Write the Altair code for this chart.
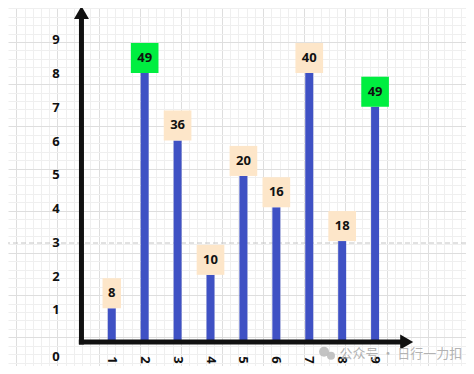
import altair as alt
import pandas as pd
import numpy as np

# ---- data ----
idx = [1, 2, 3, 4, 5, 6, 7, 8, 9]
heights = [1.03, 8, 6, 2.02, 4.95, 4.02, 8, 3.02, 7]
box_labels = ["8", "49", "36", "10", "20", "16", "40", "18", "49"]
y_ticks = [1, 2, 3, 4, 5, 6, 7, 8, 9]
y_tick_labels = ["1", "2", "3", "4", "5", "6", "7", "8", "9"]
origin_label = "0"
x_tick_labels = ["1", "2", "3", "4", "5", "6", "7", "8", "9"]
watermark = "公众号 · 日行一力扣"

W, H = 458, 358
xs = alt.Scale(domain=[-2.0, 11.61], nice=False, zero=False)
ys = alt.Scale(domain=[-0.681, 9.926], nice=False, zero=False)

# faint background grid (decoration)
xg = [round(10.6 - 0.25 * k, 4) for k in range(-4, 51)]
yg = [round(8.92 - 0.25 * k, 4) for k in range(-4, 39)]
x_axis = alt.Axis(values=xg, grid=True, labels=False, ticks=False, domain=False, title=None,
                  gridColor={"condition": {"test": "round((10.6 - datum.value) / 0.25) % 5 == 0",
                                           "value": "#dedede"}, "value": "#efefef"},
                  gridWidth=1)
y_axis = alt.Axis(values=yg, grid=True, labels=False, ticks=False, domain=False, title=None,
                  gridColor={"condition": {"test": "round((8.92 - datum.value) / 0.25) % 5 == 0",
                                           "value": "#dedede"}, "value": "#efefef"},
                  gridWidth=1)


def X(f, **kw):
    return alt.X(f, type="quantitative", scale=xs, axis=x_axis, **kw)


def Y(f, **kw):
    return alt.Y(f, type="quantitative", scale=ys, axis=y_axis, **kw)


maxlab = max(int(v) for v in box_labels)
bars_df = pd.DataFrame({
    "i": idx, "h": heights, "label": box_labels,
    "hl": [int(v) == maxlab for v in box_labels],
})

bars = alt.Chart(bars_df).mark_bar(size=8, color="#3f51c4").encode(
    x=X("i"), y=Y("h"), y2=alt.value(H - (0 - (-0.681)) * (H / (9.926 + 0.681)))
)

boxes = alt.Chart(bars_df).transform_calculate(
    lo="datum.i - (length(datum.label) > 1 ? 0.42 : 0.28)",
    hi="datum.i + (length(datum.label) > 1 ? 0.42 : 0.28)",
    top="datum.h + 0.89",
    col="datum.hl ? '#00ee40' : '#fde6c9'",
).mark_rect().encode(
    x=X("lo"), x2="hi", y=Y("h"), y2="top",
    color=alt.Color("col:N", scale=None),
)

box_text = alt.Chart(bars_df).transform_calculate(
    mid="datum.h + 0.445"
).mark_text(fontSize=13, fontWeight="bold", font="Noto Sans", color="#111",
            baseline="middle", align="center").encode(
    x=X("i"), y=Y("mid"), text="label:N"
)

# dashed horizontal guide
dash = alt.Chart(pd.DataFrame({"y": [2.963]})).mark_rule(
    color="#c4c4c4", strokeDash=[5, 3], strokeWidth=1
).encode(y=Y("y"))

# axis shafts
yshaft = alt.Chart(pd.DataFrame({"x": [0.08], "y0": [-0.045], "y1": [9.62]})).mark_rule(
    color="#111", strokeWidth=5
).encode(x=X("x"), y=Y("y0"), y2="y1")
xshaft = alt.Chart(pd.DataFrame({"y": [0.03], "x0": [0.0], "x1": [9.8]})).mark_rule(
    color="#111", strokeWidth=5
).encode(y=Y("y"), x=X("x0"), x2="x1")

yarrow = alt.Chart(pd.DataFrame({"x": [0.08], "y": [9.79]})).mark_point(
    shape="triangle-up", filled=True, size=225, color="#111", opacity=1
).encode(x=X("x"), y=Y("y"))
xarrow = alt.Chart(pd.DataFrame({"x": [9.96], "y": [0.03]})).mark_point(
    shape="triangle-right", filled=True, size=225, color="#111", opacity=1
).encode(x=X("x"), y=Y("y"))

# tick labels
ylab_df = pd.DataFrame({"y": y_ticks, "t": y_tick_labels, "x": [-0.694] * len(y_ticks)})
ylabs = alt.Chart(ylab_df).mark_text(fontSize=13, fontWeight="bold", font="Noto Sans",
                                     color="#111", dy=1).encode(
    x=X("x"), y=Y("y"), text="t:N")
olab = alt.Chart(pd.DataFrame({"x": [-0.694], "y": [-0.41], "t": [origin_label]})).mark_text(
    fontSize=13, fontWeight="bold", font="Noto Sans", color="#111").encode(
    x=X("x"), y=Y("y"), text="t:N")

xlab_df = pd.DataFrame({"x": idx, "t": x_tick_labels, "y": [-0.5] * len(idx)})
xlabs = alt.Chart(xlab_df).mark_text(fontSize=13, fontWeight="bold", font="Noto Sans",
                                     color="#111", angle=90, baseline="middle",
                                     align="center").encode(
    x=X("x"), y=Y("y"), text="t:N")

# watermark
icon = alt.Chart(pd.DataFrame({"x": [7.45, 7.66], "y": [-0.26, -0.38], "s": [100, 64]})).mark_circle(
    color="#bdbdbd", opacity=0.9
).encode(x=X("x"), y=Y("y"), size=alt.Size("s:Q", scale=None, legend=None))
wm = alt.Chart(pd.DataFrame({"x": [7.92], "y": [-0.326], "t": [watermark]})).mark_text(
    fontSize=13, font="Noto Sans CJK SC", color="#ababab", align="left", baseline="middle",
    opacity=0.9
).encode(x=X("x"), y=Y("y"), text="t:N")

chart = alt.layer(
    dash, bars, boxes, box_text, yshaft, xshaft, yarrow, xarrow,
    ylabs, olab, xlabs, icon, wm
).properties(
    width=W, height=H, padding=0, autosize=alt.AutoSizeParams(type="none"),
    background="white"
).configure_view(strokeWidth=0)

chart.save("out.html", embed_options={"renderer": "svg", "actions": False})
